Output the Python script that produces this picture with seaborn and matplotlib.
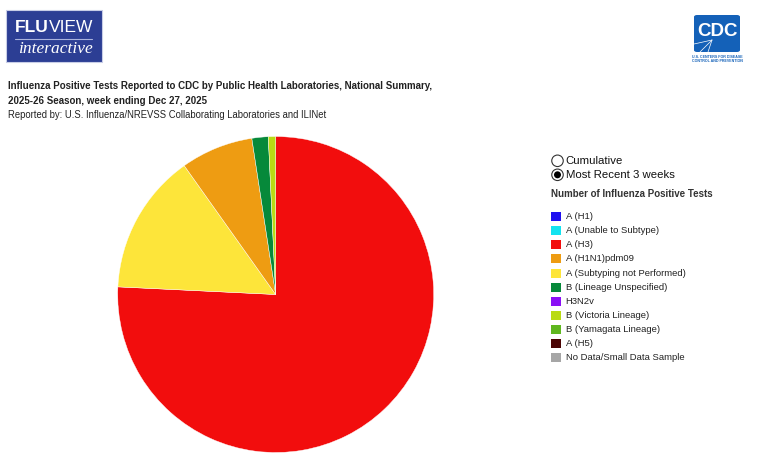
import matplotlib
matplotlib.use("Agg")
import matplotlib.pyplot as plt
import matplotlib.patches as mpatches
import seaborn as sns

# ---- data ----
pie_labels = ["A (H3)", "A (Subtyping not Performed)", "A (H1N1)pdm09",
              "B (Lineage Unspecified)", "B (Victoria Lineage)"]
pie_values = [910, 173, 89, 20, 9]

legend_labels = ["A (H1)", "A (Unable to Subtype)", "A (H3)", "A (H1N1)pdm09",
                 "A (Subtyping not Performed)", "B (Lineage Unspecified)", "H3N2v",
                 "B (Victoria Lineage)", "B (Yamagata Lineage)", "A (H5)",
                 "No Data/Small Data Sample"]
legend_colors = ["#1f10f0", "#12e3f0", "#f20d0d", "#ee9c12", "#fde53a", "#06893a",
                 "#8a10f5", "#b9db13", "#5fb71f", "#4a0404", "#a6a6a6"]

title_lines = ["Influenza Positive Tests Reported to CDC by Public Health Laboratories, National Summary,",
               "2025-26 Season, week ending Dec 27, 2025"]
subtitle = "Reported by: U.S. Influenza/NREVSS Collaborating Laboratories and ILINet"
radio_labels = ["Cumulative", "Most Recent 3 weeks"]
legend_title = "Number of Influenza Positive Tests"

sns.set_theme(style="white")
plt.rcParams['font.family'] = ['Liberation Sans', 'DejaVu Sans']

W, H = 768, 471
fig = plt.figure(figsize=(W / 100, H / 100), dpi=100)

def fx(x): return x / W
def fy(y): return 1 - y / H

color_map = dict(zip(legend_labels, legend_colors))
pie_colors = [color_map[l] for l in pie_labels]

# pie axes: center (275.7, 294.5), radius 158
cx, cy, r = 275.7, 294.5, 158
ax = fig.add_axes([fx(cx - r), fy(cy + r), 2 * r / W, 2 * r / H])
ax.pie(pie_values, colors=pie_colors, startangle=90, counterclock=False,
       wedgeprops=dict(linewidth=0.3, edgecolor="white"))
ax.set_xlim(-1, 1); ax.set_ylim(-1, 1)
ax.set_aspect("equal")
ax.axis("off")

# titles
fig.text(fx(8), fy(86), title_lines[0], fontsize=7.0, fontweight="bold", color="#222222", va="center")
fig.text(fx(8), fy(101), title_lines[1], fontsize=7.0, fontweight="bold", color="#222222", va="center")
fig.text(fx(8), fy(115), subtitle, fontsize=6.85, color="#222222", va="center")

# FluView logo
fig.patches.append(mpatches.Rectangle((fx(6), fy(62)), fx(96), 52.5 / H, transform=fig.transFigure,
                                      facecolor="#2c3e94", edgecolor="#c8cde6", linewidth=0.8))
t_flu = fig.text(fx(15), fy(28), "FLU", fontsize=12.5, fontweight="bold", color="white", va="center")
renderer = fig.canvas.get_renderer()
bb = t_flu.get_window_extent(renderer=renderer)
fig.text(bb.x1 / W + 0.5 / W, fy(28), "VIEW", fontsize=12.5, color="white", va="center")
fig.add_artist(plt.Line2D([fx(15), fx(92)], [fy(38.5), fy(38.5)], transform=fig.transFigure,
                          color="#aab3dd", linewidth=0.8))
fig.text(fx(55), fy(49), "interactive", fontsize=12.5, style="italic", color="white", va="center",
         ha="center", family="Liberation Serif")

# CDC logo
fig.patches.append(mpatches.FancyBboxPatch((fx(694), fy(52)), fx(46), 37 / H, transform=fig.transFigure,
                                           boxstyle="round,pad=0,rounding_size=0.004",
                                           facecolor="#1461b8", edgecolor="none"))
for ang_end in [(694, 44), (700, 52), (708, 52)]:
    fig.add_artist(plt.Line2D([fx(712), fx(ang_end[0])], [fy(40), fy(ang_end[1])],
                              transform=fig.transFigure, color="white", linewidth=0.5))
fig.text(fx(718), fy(31), "CDC", fontsize=13.5, fontweight="bold", color="white", va="center",
         ha="center")
fig.text(fx(717), fy(57), "U.S. CENTERS FOR DISEASE", fontsize=2.6, fontweight="bold",
         color="#1461b8", va="center", ha="center")
fig.text(fx(717), fy(61), "CONTROL AND PREVENTION", fontsize=2.6, fontweight="bold",
         color="#1461b8", va="center", ha="center")

# radio buttons
for i, lab in enumerate(radio_labels):
    yy = 160.8 + i * 14
    fig.patches.append(mpatches.Ellipse((fx(557.5), fy(yy)), 11.5 / W, 11.5 / H,
                                        transform=fig.transFigure, facecolor="white",
                                        edgecolor="#333333", linewidth=0.8))
    if i == 1:
        fig.patches.append(mpatches.Ellipse((fx(557.5), fy(yy)), 7 / W, 7 / H,
                                            transform=fig.transFigure, facecolor="black",
                                            edgecolor="none"))
    fig.text(fx(565.5), fy(yy), lab, fontsize=8.2, color="#111111", va="center")

fig.text(fx(551), fy(194), legend_title, fontsize=7.0, fontweight="bold", color="#333333", va="center")

for i, (lab, col) in enumerate(zip(legend_labels, legend_colors)):
    yy = 216.7 + i * 14.08
    fig.patches.append(mpatches.Rectangle((fx(551), fy(yy + 4.5)), 9.5 / W, 9 / H,
                                          transform=fig.transFigure, facecolor=col,
                                          edgecolor="none"))
    fig.text(fx(565.5), fy(yy), lab, fontsize=6.8, color="#222222", va="center")

fig.savefig("out.png", dpi=100)
